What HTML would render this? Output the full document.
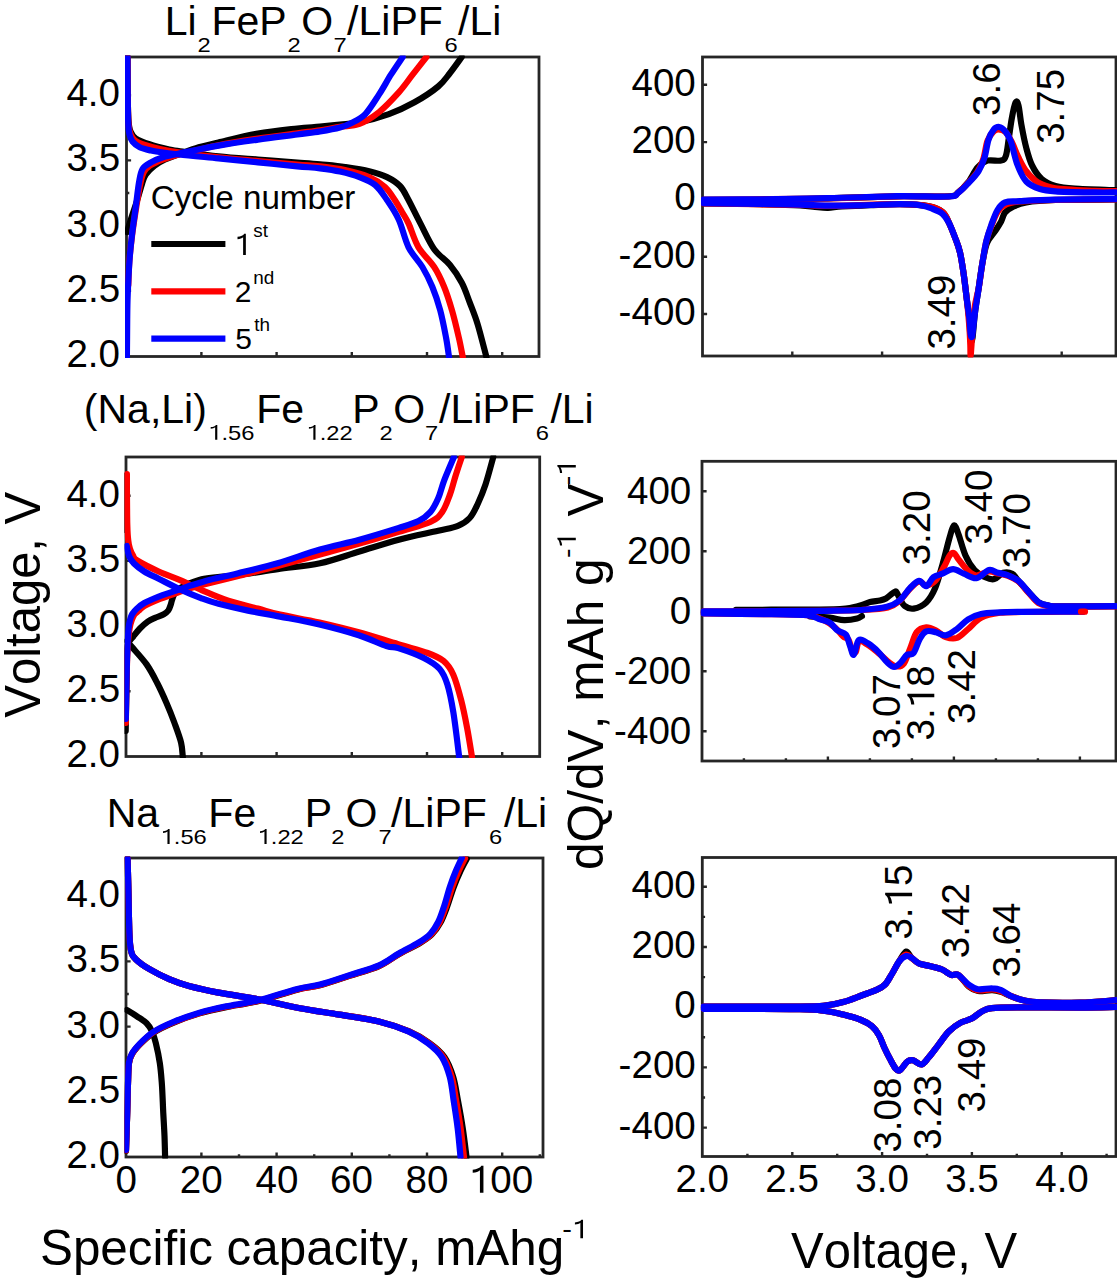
<!DOCTYPE html>
<html><head><meta charset="utf-8"><title>Figure</title>
<style>
html,body{margin:0;padding:0;background:#fff;}
body{width:1117px;height:1280px;overflow:hidden;}
svg{display:block;}
text{font-family:"Liberation Sans", sans-serif;fill:#000;font-kerning:none;}
</style></head><body>
<svg width="1117" height="1280" viewBox="0 0 1117 1280">
<rect width="1117" height="1280" fill="#fff"/>
<rect x="126.5" y="57.0" width="412.50" height="299.50" fill="none" stroke="#262626" stroke-width="2.8"/>
<path d="M201.4 356.5v-4.6 M276.6 356.5v-4.6 M351.8 356.5v-4.6 M427.0 356.5v-4.6 M502.2 356.5v-4.6 M126.5 323.4h2.8 M126.5 290.8h4.6 M126.5 258.2h2.8 M126.5 225.6h4.6 M126.5 193.0h2.8 M126.5 160.4h4.6 M126.5 127.8h2.8 M126.5 95.2h4.6 M126.5 62.6h2.8" stroke="#262626" stroke-width="2.4" fill="none"/>
<rect x="126.0" y="457.0" width="413.70" height="299.50" fill="none" stroke="#262626" stroke-width="2.8"/>
<path d="M201.4 756.5v-4.6 M276.6 756.5v-4.6 M351.8 756.5v-4.6 M427.0 756.5v-4.6 M502.2 756.5v-4.6 M126.0 691.3h4.6 M126.0 626.1h4.6 M126.0 560.9h4.6 M126.0 495.7h4.6" stroke="#262626" stroke-width="2.4" fill="none"/>
<rect x="126.0" y="858.0" width="417.00" height="299.00" fill="none" stroke="#262626" stroke-width="2.8"/>
<path d="M163.8 1157.0v-2.8 M201.4 1157.0v-4.6 M239.0 1157.0v-2.8 M276.6 1157.0v-4.6 M314.2 1157.0v-2.8 M351.8 1157.0v-4.6 M389.4 1157.0v-2.8 M427.0 1157.0v-4.6 M464.6 1157.0v-2.8 M502.2 1157.0v-4.6 M539.8 1157.0v-2.8 M126.0 1124.4h2.8 M126.0 1091.8h4.6 M126.0 1059.2h2.8 M126.0 1026.6h4.6 M126.0 994.0h2.8 M126.0 961.4h4.6 M126.0 928.8h2.8 M126.0 896.2h4.6 M126.0 863.6h2.8" stroke="#262626" stroke-width="2.4" fill="none"/>
<rect x="702.5" y="57.0" width="413.50" height="299.00" fill="none" stroke="#262626" stroke-width="2.8"/>
<path d="M792.3 356.0v-4.6 M882.1 356.0v-4.6 M971.9 356.0v-4.6 M1061.7 356.0v-4.6 M702.5 314.0h4.6 M702.5 256.7h4.6 M702.5 199.4h4.6 M702.5 142.1h4.6 M702.5 84.8h4.6" stroke="#262626" stroke-width="2.4" fill="none"/>
<rect x="702.0" y="461.3" width="414.00" height="299.70" fill="none" stroke="#262626" stroke-width="2.8"/>
<path d="M743.9 761.0v-2.8 M785.9 761.0v-2.8 M827.9 761.0v-4.6 M869.9 761.0v-2.8 M911.9 761.0v-2.8 M953.9 761.0v-4.6 M995.9 761.0v-2.8 M1037.9 761.0v-2.8 M1079.9 761.0v-4.6 M702.0 731.2h4.6 M702.0 671.2h4.6 M702.0 611.2h4.6 M702.0 551.2h4.6 M702.0 491.2h4.6" stroke="#262626" stroke-width="2.4" fill="none"/>
<rect x="702.3" y="857.5" width="413.70" height="299.00" fill="none" stroke="#262626" stroke-width="2.8"/>
<path d="M747.4 1156.5v-2.8 M792.3 1156.5v-4.6 M837.2 1156.5v-2.8 M882.1 1156.5v-4.6 M927.0 1156.5v-2.8 M971.9 1156.5v-4.6 M1016.8 1156.5v-2.8 M1061.7 1156.5v-4.6 M1106.6 1156.5v-2.8 M702.3 1127.6h4.6 M702.3 1097.5h2.8 M702.3 1067.4h4.6 M702.3 1037.3h2.8 M702.3 1007.2h4.6 M702.3 977.1h2.8 M702.3 947.0h4.6 M702.3 916.9h2.8 M702.3 886.8h4.6" stroke="#262626" stroke-width="2.4" fill="none"/>
<defs><clipPath id="cTL"><rect x="125.0" y="55.5" width="415.5" height="302.5"/></clipPath><clipPath id="cML"><rect x="124.5" y="455.5" width="416.70000000000005" height="302.5"/></clipPath><clipPath id="cBL"><rect x="124.5" y="856.5" width="420.0" height="302.0"/></clipPath><clipPath id="cTR"><rect x="701.0" y="55.5" width="416.5" height="302.0"/></clipPath><clipPath id="cMR"><rect x="700.5" y="459.8" width="417.0" height="302.7"/></clipPath><clipPath id="cBR"><rect x="700.8" y="856.0" width="416.70000000000005" height="302.0"/></clipPath></defs>
<g clip-path="url(#cTL)" fill="none" stroke-width="6.2" stroke-linejoin="round" stroke-linecap="round">
<path d="M127.5 57.0 C127.5 64.2 127.6 89.3 127.8 100.0 C128.0 110.7 128.1 115.8 128.5 121.0 C128.9 126.2 129.3 128.6 130.5 131.5 C131.7 134.4 132.6 136.4 135.8 138.5 C139.0 140.6 143.9 142.5 149.5 144.3 C155.1 146.2 164.1 148.4 169.2 149.6 C174.3 150.8 171.8 150.2 180.0 151.3 C188.2 152.4 205.5 154.9 218.5 156.3 C231.5 157.7 244.8 158.5 257.9 159.5 C271.0 160.5 286.9 161.7 297.3 162.5 C307.7 163.3 312.1 163.6 320.0 164.3 C327.9 165.1 336.8 165.8 345.0 167.0 C353.2 168.2 362.2 169.5 369.2 171.2 C376.2 172.9 381.9 174.6 387.0 177.1 C392.1 179.6 396.5 182.3 400.0 186.0 C403.5 189.7 404.6 192.7 408.0 199.0 C411.4 205.3 416.1 215.2 420.5 223.6 C424.9 232.0 429.3 242.3 434.2 249.2 C439.1 256.1 445.4 259.4 450.0 265.0 C454.6 270.6 458.5 276.5 461.8 282.7 C465.1 288.9 467.1 295.5 469.7 302.4 C472.3 309.3 474.8 315.0 477.6 324.1 C480.4 333.2 484.9 351.5 486.4 357.0" stroke="#000000"/>
<path d="M127.0 232.0 C127.7 229.8 129.3 224.3 131.0 219.0 C132.7 213.7 135.4 206.0 137.2 200.2 C139.0 194.4 140.6 188.3 142.0 184.0 C143.4 179.7 143.7 177.4 145.8 174.4 C147.9 171.4 151.2 168.3 154.4 165.8 C157.6 163.3 160.7 161.5 165.0 159.5 C169.3 157.5 174.4 155.8 180.0 153.8 C185.6 151.8 192.4 149.2 198.8 147.3 C205.2 145.4 208.7 144.8 218.5 142.5 C228.3 140.2 244.8 135.9 257.9 133.6 C271.0 131.3 286.9 129.7 297.3 128.5 C307.7 127.3 312.9 127.3 320.0 126.6 C327.1 125.9 333.4 125.2 340.0 124.5 C346.6 123.8 351.2 124.0 359.4 122.3 C367.5 120.6 379.7 117.4 388.9 114.1 C398.1 110.8 406.3 106.9 414.5 102.3 C422.7 97.7 432.3 91.4 438.2 86.5 C444.1 81.6 446.1 77.9 450.0 73.0 C453.9 68.1 459.8 59.7 461.8 57.0" stroke="#000000"/>
<path d="M127.5 57.0 C127.5 64.2 127.6 88.8 127.8 100.0 C128.0 111.2 128.1 118.3 128.5 124.0 C128.9 129.7 129.4 131.2 130.5 134.0 C131.6 136.8 132.6 138.7 135.0 140.5 C137.4 142.3 140.8 143.6 145.0 145.0 C149.2 146.4 154.2 147.8 160.0 149.0 C165.8 150.2 170.2 151.1 180.0 152.5 C189.8 153.9 205.5 155.9 218.5 157.3 C231.5 158.7 244.8 159.8 257.9 161.0 C271.0 162.2 286.9 163.6 297.3 164.5 C307.7 165.4 312.1 165.4 320.0 166.3 C327.9 167.2 336.8 168.2 345.0 170.0 C353.2 171.8 362.5 174.3 369.2 177.1 C375.9 179.9 380.7 183.2 385.0 187.0 C389.3 190.8 392.0 195.8 394.8 200.0 C397.6 204.2 399.7 208.1 402.0 212.0 C404.3 215.9 405.9 217.7 408.6 223.6 C411.4 229.5 414.2 240.1 418.5 247.3 C422.8 254.5 429.9 260.4 434.2 267.0 C438.5 273.6 441.1 279.5 444.1 286.7 C447.1 293.9 449.5 301.8 452.0 310.3 C454.5 318.8 457.1 330.1 458.9 337.9 C460.7 345.7 462.1 353.8 462.8 357.0" stroke="#ff0000"/>
<path d="M128.3 285.0 C128.5 281.2 128.7 270.2 129.3 262.0 C129.9 253.8 130.9 244.7 132.0 236.0 C133.1 227.3 134.5 218.3 135.8 210.0 C137.1 201.7 138.5 192.3 139.8 186.0 C141.1 179.7 142.1 175.4 143.8 172.0 C145.5 168.6 147.6 167.2 150.0 165.5 C152.4 163.8 155.0 162.8 158.0 161.5 C161.0 160.2 164.3 159.0 168.0 157.8 C171.7 156.6 171.6 156.4 180.0 154.3 C188.4 152.2 205.5 147.8 218.5 145.2 C231.5 142.6 244.8 140.6 257.9 138.6 C271.0 136.6 286.9 134.7 297.3 133.3 C307.7 131.9 312.9 131.4 320.0 130.3 C327.1 129.2 333.4 127.9 340.0 126.8 C346.6 125.7 352.9 126.4 359.4 123.9 C365.9 121.5 372.5 117.3 379.1 112.1 C385.7 106.8 393.2 98.6 398.8 92.4 C404.4 86.2 408.0 80.6 412.6 74.7 C417.2 68.8 424.1 60.0 426.4 57.0" stroke="#ff0000"/>
<path d="M127.5 57.0 C127.5 64.2 127.7 88.7 127.8 100.0 C127.9 111.3 128.0 119.2 128.3 125.0 C128.6 130.8 128.8 131.8 129.5 134.5 C130.2 137.2 130.8 139.4 132.5 141.5 C134.2 143.6 136.6 145.7 139.7 147.2 C142.8 148.7 147.7 149.8 151.0 150.6 C154.3 151.4 154.7 151.3 159.4 152.0 C164.1 152.7 169.2 153.4 179.1 154.5 C188.9 155.6 205.4 157.1 218.5 158.4 C231.6 159.7 244.8 161.0 257.9 162.3 C271.0 163.6 286.9 165.3 297.3 166.3 C307.7 167.3 312.9 167.4 320.0 168.3 C327.1 169.2 333.4 170.0 340.0 171.5 C346.6 173.0 353.5 174.8 359.4 177.1 C365.3 179.3 370.6 181.2 375.2 185.0 C379.8 188.8 383.1 194.2 387.0 200.0 C390.9 205.8 395.2 211.8 398.8 219.7 C402.4 227.6 404.7 239.4 408.6 247.3 C412.5 255.2 418.4 260.4 422.4 267.0 C426.3 273.6 429.3 279.5 432.3 286.7 C435.3 293.9 437.9 301.8 440.2 310.3 C442.5 318.8 444.6 330.1 446.1 337.9 C447.6 345.7 448.5 353.8 449.0 357.0" stroke="#0000ff"/>
<path d="M126.9 357.0 C127.0 350.8 127.1 330.4 127.2 320.0 C127.3 309.6 127.3 304.7 127.7 294.8 C128.1 284.9 128.8 270.4 129.5 260.4 C130.2 250.4 131.0 243.2 132.0 234.6 C133.0 226.0 134.3 217.4 135.5 208.8 C136.7 200.2 137.8 189.6 138.9 183.0 C140.1 176.4 140.4 172.6 142.4 169.2 C144.4 165.8 147.6 164.4 151.0 162.4 C154.4 160.4 158.3 158.7 163.0 157.2 C167.7 155.7 169.8 155.4 179.1 153.5 C188.3 151.6 205.4 147.9 218.5 145.6 C231.6 143.3 244.8 141.5 257.9 139.7 C271.0 137.8 286.9 135.9 297.3 134.5 C307.7 133.1 312.9 132.7 320.0 131.5 C327.1 130.3 334.8 128.9 340.0 127.5 C345.2 126.1 347.3 125.2 351.5 123.0 C355.7 120.8 360.7 118.9 365.3 114.1 C369.9 109.3 374.8 101.0 379.1 94.4 C383.4 87.8 387.0 80.9 390.9 74.7 C394.8 68.5 400.7 60.0 402.7 57.0" stroke="#0000ff"/>
</g>
<g clip-path="url(#cML)" fill="none" stroke-width="6.2" stroke-linejoin="round" stroke-linecap="round">
<path d="M125.4 476.0 C125.4 480.0 125.4 491.0 125.5 500.0 C125.6 509.0 125.8 525.0 125.8 530.0" stroke="#000000"/>
<path d="M127.0 641.0 C127.8 642.0 128.7 643.2 132.0 647.1 C135.3 651.0 142.4 658.4 146.6 664.4 C150.8 670.4 153.9 676.6 157.2 683.0 C160.5 689.4 163.6 696.3 166.5 702.9 C169.4 709.5 172.0 716.2 174.4 722.8 C176.8 729.4 179.7 737.0 181.1 742.7 C182.5 748.4 182.5 754.6 182.8 757.0" stroke="#000000"/>
<path d="M125.7 731.0 C125.8 725.8 126.0 711.0 126.2 700.0 C126.4 689.0 126.7 674.2 126.9 665.0 C127.1 655.8 126.5 649.8 127.6 645.0 C128.7 640.2 131.2 639.2 133.3 636.5 C135.4 633.8 137.5 631.0 139.9 628.5 C142.3 626.0 145.4 623.3 147.9 621.5 C150.4 619.7 152.3 619.0 155.0 617.8 C157.7 616.6 161.6 615.5 163.8 614.3 C166.0 613.1 167.1 612.1 168.3 610.5 C169.5 608.9 170.1 606.5 170.8 604.5 C171.5 602.5 171.6 600.7 172.5 598.5 C173.4 596.3 174.1 593.6 176.0 591.5 C177.9 589.4 179.4 588.0 183.7 586.0 C188.0 584.0 195.5 580.8 201.6 579.3 C207.7 577.8 213.9 577.5 220.0 576.8 C226.1 576.1 228.6 576.4 238.2 575.1 C247.8 573.8 264.0 571.2 277.6 569.2 C291.2 567.2 306.4 566.2 320.0 563.3 C333.6 560.3 346.3 555.4 359.4 551.5 C372.5 547.6 385.7 543.2 398.8 539.7 C411.9 536.2 428.4 533.1 438.2 530.8 C448.0 528.5 452.6 528.0 457.9 525.9 C463.1 523.8 466.4 521.6 469.7 518.0 C473.0 514.4 475.0 509.8 477.6 504.2 C480.2 498.6 482.9 492.4 485.5 484.5 C488.1 476.6 492.0 461.6 493.3 457.0" stroke="#000000"/>
<path d="M126.9 474.0 C126.9 478.3 126.9 491.5 127.0 500.0 C127.1 508.5 127.1 518.3 127.3 525.0 C127.5 531.7 127.7 536.0 128.2 540.0 C128.6 544.0 129.2 546.4 130.0 549.0 C130.8 551.6 131.8 553.6 133.0 555.5 C134.2 557.4 132.9 557.8 137.2 560.5 C141.5 563.2 151.5 568.2 158.7 571.5 C165.8 574.8 172.9 577.0 180.1 580.1 C187.2 583.2 193.6 586.7 201.6 590.1 C209.6 593.5 218.9 597.7 228.3 600.8 C237.7 603.9 249.3 606.3 257.9 608.6 C266.5 610.9 269.8 612.3 280.0 614.6 C290.2 616.9 306.3 619.5 319.4 622.5 C332.5 625.5 345.7 628.7 358.8 632.3 C371.9 635.9 386.7 640.8 398.2 644.2 C409.7 647.7 420.1 650.2 427.7 653.0 C435.2 655.8 439.2 657.3 443.5 660.9 C447.8 664.5 450.4 668.1 453.3 674.7 C456.2 681.3 458.9 691.4 461.2 700.3 C463.5 709.2 465.3 718.4 467.1 727.9 C468.9 737.4 471.2 752.1 472.0 757.0" stroke="#ff0000"/>
<path d="M125.8 723.0 C125.9 717.5 126.1 700.5 126.3 690.0 C126.5 679.5 126.8 668.3 127.1 660.0 C127.4 651.7 127.8 645.3 128.2 640.0 C128.6 634.7 129.1 631.3 129.7 628.0 C130.3 624.7 131.0 622.2 131.8 620.0 C132.6 617.8 133.3 616.1 134.5 614.5 C135.7 612.9 137.4 611.9 139.0 610.5 C140.6 609.1 141.0 607.8 144.3 606.0 C147.6 604.2 153.9 601.5 158.7 599.5 C163.5 597.5 168.2 596.0 173.0 594.3 C177.8 592.6 182.5 590.8 187.3 589.3 C192.1 587.8 193.1 587.2 201.6 585.0 C210.1 582.8 225.5 579.2 238.2 576.0 C250.9 572.8 264.0 569.6 277.6 566.0 C291.2 562.4 306.4 558.2 320.0 554.5 C333.6 550.8 346.3 547.4 359.4 543.6 C372.5 539.8 387.0 535.4 398.8 531.8 C410.6 528.2 423.1 525.3 430.3 522.0 C437.5 518.7 438.8 516.7 442.1 512.1 C445.4 507.5 447.7 500.6 450.0 494.4 C452.3 488.2 453.9 480.9 455.9 474.7 C457.9 468.5 460.8 459.9 461.8 457.0" stroke="#ff0000"/>
<path d="M126.7 546.0 C127.1 547.8 128.1 553.6 129.3 556.5 C130.5 559.4 131.5 561.0 134.0 563.5 C136.5 566.0 140.2 569.0 144.3 571.5 C148.4 574.0 152.7 575.7 158.7 578.7 C164.7 581.7 172.9 586.1 180.1 589.4 C187.2 592.7 195.2 595.9 201.6 598.3 C208.0 600.7 210.8 601.8 218.5 603.8 C226.2 605.8 237.8 608.5 248.0 610.6 C258.2 612.7 268.1 614.3 280.0 616.6 C291.9 618.9 306.3 621.4 319.4 624.5 C332.5 627.6 347.6 631.7 358.8 635.3 C370.0 638.9 379.8 644.0 386.4 646.1 C393.0 648.2 392.0 646.1 398.2 648.1 C404.4 650.1 416.9 654.5 423.8 658.0 C430.7 661.5 435.6 664.4 439.5 668.8 C443.4 673.2 445.1 677.3 447.4 684.5 C449.7 691.7 451.3 700.0 453.3 712.1 C455.3 724.2 458.2 749.5 459.2 757.0" stroke="#0000ff"/>
<path d="M125.8 719.0 C125.9 714.2 126.1 699.8 126.3 690.0 C126.5 680.2 126.8 668.3 127.0 660.0 C127.2 651.7 127.5 645.3 127.8 640.0 C128.1 634.7 128.2 631.3 128.6 628.0 C129.0 624.7 129.4 622.3 130.0 620.0 C130.6 617.7 131.1 615.9 132.3 614.0 C133.5 612.1 135.0 610.3 137.0 608.5 C139.0 606.7 140.7 605.0 144.3 603.0 C147.9 601.0 153.9 598.5 158.7 596.6 C163.5 594.7 168.2 593.3 173.0 591.6 C177.8 589.9 182.5 588.2 187.3 586.6 C192.1 585.0 197.8 583.4 201.6 582.3 C205.4 581.2 203.9 581.3 210.0 579.8 C216.1 578.3 226.9 576.0 238.2 573.2 C249.5 570.5 264.0 567.2 277.6 563.3 C291.2 559.3 306.4 553.4 320.0 549.5 C333.6 545.6 346.3 543.3 359.4 539.7 C372.5 536.1 388.9 531.0 398.8 527.9 C408.7 524.8 413.2 523.6 418.5 521.0 C423.8 518.4 427.0 515.9 430.3 512.1 C433.6 508.3 435.9 503.6 438.2 498.3 C440.5 493.1 441.5 487.5 444.1 480.6 C446.7 473.7 452.3 460.9 453.9 457.0" stroke="#0000ff"/>
</g>
<g clip-path="url(#cBL)" fill="none" stroke-width="6.2" stroke-linejoin="round" stroke-linecap="round">
<path d="M126.6 1009.9 C128.4 1011.0 134.0 1014.4 137.3 1016.6 C140.6 1018.8 144.2 1020.8 146.6 1023.2 C149.0 1025.6 150.4 1027.9 151.9 1031.2 C153.4 1034.5 154.5 1037.8 155.8 1043.1 C157.1 1048.4 158.8 1056.4 159.8 1063.0 C160.8 1069.6 161.2 1075.2 161.8 1082.9 C162.4 1090.7 162.7 1100.7 163.1 1109.5 C163.5 1118.3 164.2 1128.1 164.5 1136.0 C164.8 1143.9 165.0 1153.5 165.1 1157.0" stroke="#000000"/>
<path d="M127.6 858.5 C127.8 864.5 128.2 881.9 128.5 894.4 C128.8 906.9 129.0 924.3 129.4 933.8 C129.8 943.3 130.1 947.2 131.2 951.5 C132.3 955.8 132.9 956.4 136.0 959.4 C139.1 962.4 144.0 965.9 149.5 969.2 C155.0 972.5 162.6 976.3 169.2 979.1 C175.8 981.9 180.7 983.8 188.9 986.0 C197.1 988.2 207.0 990.4 218.5 992.6 C230.0 994.8 244.3 996.6 257.9 999.2 C271.5 1001.8 286.4 1005.6 300.0 1008.2 C313.6 1010.8 326.3 1012.4 339.4 1014.6 C352.5 1016.8 367.2 1018.7 378.8 1021.5 C390.4 1024.3 400.7 1027.8 409.2 1031.4 C417.6 1035.0 423.8 1038.9 429.7 1043.2 C435.6 1047.5 440.5 1051.4 444.4 1057.0 C448.3 1062.6 450.9 1069.5 453.1 1076.7 C455.4 1083.9 456.3 1091.8 457.9 1100.3 C459.5 1108.8 461.3 1118.5 462.7 1127.9 C464.2 1137.4 465.9 1152.2 466.5 1157.0" stroke="#000000"/>
<path d="M126.0 1150.8 C126.2 1144.0 127.0 1121.5 127.3 1110.3 C127.6 1099.1 127.7 1091.5 128.0 1083.7 C128.3 1075.9 128.3 1068.2 129.0 1063.3 C129.7 1058.4 130.2 1057.5 132.0 1054.3 C133.8 1051.1 136.4 1048.0 139.9 1044.4 C143.4 1040.8 147.7 1036.4 153.2 1032.8 C158.7 1029.2 165.4 1026.0 173.1 1022.8 C180.8 1019.6 190.8 1016.0 199.6 1013.4 C208.4 1010.8 216.5 1009.1 226.2 1007.1 C235.9 1005.1 246.0 1004.1 257.9 1001.2 C269.8 998.3 286.9 992.3 297.3 989.7 C307.7 987.0 311.3 987.6 320.0 985.3 C328.7 983.0 339.6 979.1 349.5 975.9 C359.4 972.7 370.9 969.7 379.1 966.1 C387.3 962.5 392.1 958.1 398.8 954.3 C405.5 950.5 413.7 946.8 419.2 943.5 C424.7 940.2 428.2 938.0 431.7 934.6 C435.2 931.1 437.8 927.4 440.3 922.8 C442.9 918.2 444.8 912.9 447.0 907.0 C449.2 901.1 451.4 893.2 453.6 887.3 C455.8 881.4 458.0 876.3 460.2 871.6 C462.4 866.8 465.7 860.9 466.8 858.8" stroke="#000000"/>
<path d="M127.6 858.5 C127.8 864.5 128.2 881.9 128.5 894.4 C128.8 906.9 129.0 924.3 129.4 933.8 C129.8 943.3 130.1 947.2 131.2 951.5 C132.3 955.8 132.9 956.4 136.0 959.4 C139.1 962.4 144.0 965.9 149.5 969.2 C155.0 972.5 162.6 976.3 169.2 979.1 C175.8 981.9 180.7 983.8 188.9 986.0 C197.1 988.2 207.0 990.4 218.5 992.6 C230.0 994.8 244.3 996.6 257.9 999.2 C271.5 1001.8 286.4 1005.6 300.0 1008.2 C313.6 1010.8 326.3 1012.4 339.4 1014.6 C352.5 1016.8 367.2 1018.7 378.8 1021.5 C390.4 1024.3 400.4 1027.8 408.8 1031.4 C417.2 1035.0 423.2 1038.9 429.0 1043.2 C434.8 1047.5 439.5 1051.4 443.3 1057.0 C447.1 1062.6 449.6 1069.5 451.7 1076.7 C453.8 1083.9 454.6 1091.8 456.1 1100.3 C457.6 1108.8 459.3 1118.5 460.6 1127.9 C461.9 1137.4 463.4 1152.2 464.0 1157.0" stroke="#ff0000"/>
<path d="M126.0 1150.5 C126.2 1143.8 127.0 1121.2 127.3 1110.0 C127.6 1098.8 127.7 1091.2 128.0 1083.4 C128.3 1075.6 128.3 1067.9 129.0 1063.0 C129.7 1058.1 130.2 1057.2 132.0 1054.0 C133.8 1050.8 136.4 1047.7 139.9 1044.1 C143.4 1040.5 147.7 1036.1 153.2 1032.5 C158.7 1028.9 165.4 1025.7 173.1 1022.5 C180.8 1019.3 190.8 1015.7 199.6 1013.1 C208.4 1010.5 216.5 1008.8 226.2 1006.8 C235.9 1004.8 246.0 1003.8 257.9 1000.9 C269.8 998.0 286.9 992.0 297.3 989.4 C307.7 986.8 311.3 987.3 320.0 985.0 C328.7 982.7 339.6 978.8 349.5 975.6 C359.4 972.4 370.9 969.4 379.1 965.8 C387.3 962.2 392.2 957.8 398.8 954.0 C405.4 950.2 413.6 946.5 419.0 943.2 C424.4 939.9 427.8 937.8 431.2 934.3 C434.6 930.8 437.1 927.1 439.6 922.5 C442.0 917.9 443.8 912.6 445.9 906.7 C448.0 900.8 450.2 892.9 452.3 887.0 C454.4 881.1 456.5 876.0 458.6 871.3 C460.8 866.5 463.9 860.6 465.0 858.5" stroke="#ff0000"/>
<path d="M127.6 858.5 C127.8 864.5 128.2 881.9 128.5 894.4 C128.8 906.9 129.0 924.3 129.4 933.8 C129.8 943.3 130.1 947.2 131.2 951.5 C132.3 955.8 132.9 956.4 136.0 959.4 C139.1 962.4 144.0 965.9 149.5 969.2 C155.0 972.5 162.6 976.3 169.2 979.1 C175.8 981.9 180.7 983.8 188.9 986.0 C197.1 988.2 207.0 990.4 218.5 992.6 C230.0 994.8 244.3 996.6 257.9 999.2 C271.5 1001.8 286.4 1005.6 300.0 1008.2 C313.6 1010.8 326.3 1012.4 339.4 1014.6 C352.5 1016.8 367.3 1018.7 378.8 1021.5 C390.3 1024.3 400.1 1027.8 408.3 1031.4 C416.5 1035.0 422.4 1038.9 428.0 1043.2 C433.6 1047.5 438.2 1051.4 441.8 1057.0 C445.4 1062.6 447.7 1069.5 449.7 1076.7 C451.7 1083.9 452.3 1091.8 453.6 1100.3 C454.9 1108.8 456.5 1118.5 457.6 1127.9 C458.8 1137.4 460.0 1152.2 460.5 1157.0" stroke="#0000ff"/>
<path d="M126.0 1150.0 C126.2 1143.2 127.0 1120.7 127.3 1109.5 C127.6 1098.3 127.7 1090.7 128.0 1082.9 C128.3 1075.1 128.3 1067.4 129.0 1062.5 C129.7 1057.6 130.2 1056.7 132.0 1053.5 C133.8 1050.3 136.4 1047.2 139.9 1043.6 C143.4 1040.0 147.7 1035.6 153.2 1032.0 C158.7 1028.4 165.4 1025.2 173.1 1022.0 C180.8 1018.8 190.8 1015.2 199.6 1012.6 C208.4 1010.0 216.5 1008.3 226.2 1006.3 C235.9 1004.3 246.0 1003.3 257.9 1000.4 C269.8 997.5 286.9 991.5 297.3 988.9 C307.7 986.2 311.3 986.8 320.0 984.5 C328.7 982.2 339.6 978.3 349.5 975.1 C359.4 971.9 370.9 968.9 379.1 965.3 C387.3 961.7 392.2 957.3 398.8 953.5 C405.4 949.7 413.2 946.0 418.5 942.7 C423.8 939.4 427.0 937.2 430.3 933.8 C433.6 930.3 435.9 926.6 438.2 922.0 C440.5 917.4 442.1 912.1 444.1 906.2 C446.1 900.3 448.0 892.4 450.0 886.5 C452.0 880.6 453.9 875.5 455.9 870.8 C457.9 866.0 460.8 860.1 461.8 858.0" stroke="#0000ff"/>
</g>
<g clip-path="url(#cTR)" fill="none" stroke-width="6.2" stroke-linejoin="round" stroke-linecap="round">
<path d="M703.5 199.8 C712.9 199.8 739.2 199.8 760.0 199.5 C780.8 199.2 805.2 198.8 828.0 198.3 C850.8 197.8 876.9 196.6 897.0 196.3 C917.1 196.0 938.4 197.0 948.6 196.3 C958.8 195.6 955.1 194.6 958.3 192.3 C961.5 190.0 964.8 186.7 968.0 182.5 C971.2 178.3 974.5 171.1 977.7 167.4 C980.9 163.8 983.5 161.7 987.4 160.6 C991.3 159.5 997.9 161.4 1001.0 160.6 C1004.1 159.8 1004.6 159.5 1005.9 155.8 C1007.2 152.1 1007.8 144.5 1008.8 138.3 C1009.8 132.2 1010.6 124.9 1011.7 118.9 C1012.8 112.9 1014.5 104.7 1015.6 102.5 C1016.7 100.3 1017.5 101.8 1018.5 105.5 C1019.5 109.2 1020.1 117.6 1021.4 124.7 C1022.7 131.8 1024.5 141.2 1026.3 148.0 C1028.1 154.8 1029.5 160.3 1032.1 165.5 C1034.7 170.7 1037.9 175.7 1041.8 179.1 C1045.7 182.5 1049.9 184.3 1055.4 185.9 C1060.9 187.5 1064.8 187.9 1074.9 188.6 C1085.0 189.3 1109.2 189.9 1116.0 190.2" stroke="#000000"/>
<path d="M703.5 203.3 C712.9 203.5 743.9 203.8 760.0 204.2 C776.1 204.6 790.8 205.0 800.0 205.5 C809.2 206.0 810.3 206.6 815.0 207.0 C819.7 207.4 823.5 207.9 828.0 207.8 C832.5 207.7 835.0 206.9 842.0 206.5 C849.0 206.1 860.3 205.6 870.0 205.2 C879.7 204.8 890.1 204.0 900.0 204.2 C909.9 204.4 922.0 205.0 929.1 206.3 C936.2 207.6 939.4 209.4 942.7 212.1 C946.0 214.8 946.8 218.3 948.8 222.5 C950.8 226.7 953.1 232.5 955.0 237.5 C956.9 242.5 958.5 246.2 960.0 252.5 C961.5 258.8 962.6 267.1 963.8 275.0 C964.9 282.9 966.0 292.5 966.9 300.0 C967.8 307.5 968.8 313.3 969.4 320.0 C970.0 326.7 970.1 337.0 970.6 340.0 C971.1 343.0 971.8 342.6 972.5 338.0 C973.2 333.4 974.0 320.9 975.0 312.5 C976.0 304.1 977.5 295.8 978.8 287.5 C980.0 279.2 981.1 269.9 982.5 262.5 C983.9 255.1 984.9 248.2 987.0 243.0 C989.1 237.8 992.7 234.8 995.0 231.3 C997.3 227.8 999.3 224.9 1001.0 221.8 C1002.7 218.7 1003.0 215.0 1005.0 212.5 C1007.0 210.0 1009.2 208.7 1012.7 207.0 C1016.2 205.3 1019.2 203.6 1026.3 202.4 C1033.4 201.2 1040.5 200.5 1055.4 200.0 C1070.4 199.5 1105.9 199.6 1116.0 199.5" stroke="#000000"/>
<path d="M703.5 199.8 C724.2 199.6 795.8 199.1 828.0 198.5 C860.2 197.9 876.9 196.6 897.0 196.3 C917.1 196.0 938.4 197.1 948.6 196.5 C958.8 195.9 955.1 194.8 958.3 192.5 C961.5 190.2 964.8 186.5 968.0 183.0 C971.2 179.5 975.1 175.4 977.7 171.3 C980.3 167.2 981.9 163.6 983.5 158.5 C985.1 153.4 985.8 145.4 987.4 141.0 C989.0 136.6 991.2 133.9 993.0 132.0 C994.8 130.1 996.0 129.5 998.1 129.5 C1000.2 129.5 1003.2 129.8 1005.5 132.0 C1007.8 134.2 1009.8 138.2 1012.0 142.5 C1014.2 146.8 1016.1 152.7 1018.5 157.5 C1020.9 162.3 1023.2 167.3 1026.5 171.5 C1029.8 175.7 1033.2 179.7 1038.0 182.5 C1042.8 185.3 1046.0 186.9 1055.4 188.3 C1064.8 189.7 1084.2 190.3 1094.3 190.8 C1104.4 191.3 1112.4 191.1 1116.0 191.2" stroke="#ff0000"/>
<path d="M703.5 203.4 C719.6 203.7 779.2 204.6 800.0 205.0 C820.8 205.4 811.3 205.9 828.0 205.8 C844.7 205.7 883.1 204.1 900.0 204.2 C916.9 204.3 922.0 205.0 929.1 206.3 C936.2 207.6 939.4 209.4 942.7 212.1 C946.0 214.8 946.8 218.3 948.8 222.5 C950.8 226.7 953.1 232.5 955.0 237.5 C956.9 242.5 958.5 246.2 960.0 252.5 C961.5 258.8 962.6 267.1 963.8 275.0 C964.9 282.9 966.0 291.7 966.9 300.0 C967.8 308.3 968.6 317.5 969.2 325.0 C969.8 332.5 970.1 339.8 970.3 345.0 C970.5 350.2 970.4 356.0 970.6 356.0 C970.8 356.0 971.1 350.2 971.5 345.0 C971.9 339.8 972.1 331.7 972.7 325.0 C973.3 318.3 974.0 311.2 975.0 305.0 C976.0 298.8 977.5 294.6 978.8 287.5 C980.0 280.4 981.2 270.2 982.5 262.5 C983.8 254.8 984.8 247.4 986.3 241.3 C987.8 235.2 989.4 230.9 991.3 226.0 C993.2 221.1 995.2 215.5 997.5 212.0 C999.8 208.5 1001.2 206.8 1005.0 205.0 C1008.8 203.2 1011.6 202.4 1020.0 201.5 C1028.4 200.6 1039.4 200.2 1055.4 199.8 C1071.4 199.4 1105.9 199.4 1116.0 199.3" stroke="#ff0000"/>
<path d="M703.5 199.6 C712.9 199.6 739.2 199.5 760.0 199.3 C780.8 199.1 805.2 198.7 828.0 198.2 C850.8 197.7 876.9 196.5 897.0 196.2 C917.1 195.9 938.4 197.1 948.6 196.5 C958.8 195.9 955.0 194.9 958.3 192.7 C961.6 190.4 965.1 186.6 968.5 183.0 C971.9 179.4 975.8 175.5 978.5 171.3 C981.2 167.1 982.9 162.9 984.5 157.7 C986.1 152.5 986.9 144.7 988.4 140.0 C989.9 135.3 992.0 131.7 993.8 129.5 C995.6 127.3 997.4 126.8 999.3 127.0 C1001.1 127.2 1003.0 128.7 1004.9 131.0 C1006.8 133.3 1008.6 135.3 1010.7 141.0 C1012.8 146.7 1014.9 158.2 1017.5 165.0 C1020.1 171.8 1022.5 177.5 1026.3 181.5 C1030.0 185.5 1035.2 187.4 1040.0 189.0 C1044.8 190.6 1046.4 190.7 1055.4 191.3 C1064.5 191.9 1084.2 192.2 1094.3 192.4 C1104.4 192.6 1112.4 192.4 1116.0 192.4" stroke="#0000ff"/>
<path d="M703.5 203.2 C712.9 203.3 743.9 203.6 760.0 203.8 C776.1 204.0 788.7 204.3 800.0 204.6 C811.3 204.9 818.0 205.5 828.0 205.6 C838.0 205.7 848.0 205.5 860.0 205.3 C872.0 205.1 890.0 204.2 900.0 204.2 C910.0 204.2 914.6 204.4 920.0 205.2 C925.4 206.0 928.8 207.4 932.5 208.8 C936.2 210.2 939.8 211.5 942.5 213.8 C945.2 216.1 946.7 218.6 948.8 222.5 C950.9 226.4 953.1 232.5 955.0 237.5 C956.9 242.5 958.5 246.2 960.0 252.5 C961.5 258.8 962.6 267.1 963.8 275.0 C964.9 282.9 966.0 292.7 966.9 300.0 C967.8 307.3 968.8 313.1 969.4 318.8 C970.0 324.5 970.2 331.0 970.6 334.0 C971.0 337.0 971.3 337.0 971.6 337.0 C971.9 337.0 971.9 338.1 972.5 334.0 C973.1 329.9 974.0 320.2 975.0 312.5 C976.0 304.8 977.5 295.8 978.8 287.5 C980.0 279.2 981.2 270.2 982.5 262.5 C983.8 254.8 984.8 247.6 986.3 241.3 C987.8 235.1 989.4 230.2 991.3 225.0 C993.2 219.8 995.2 213.8 997.5 210.0 C999.8 206.2 1001.2 204.0 1005.0 202.5 C1008.8 201.0 1011.6 201.7 1020.0 201.2 C1028.4 200.7 1039.4 199.9 1055.4 199.6 C1071.4 199.2 1105.9 199.2 1116.0 199.1" stroke="#0000ff"/>
</g>
<g clip-path="url(#cMR)" fill="none" stroke-width="6.2" stroke-linejoin="round" stroke-linecap="round">
<path d="M736.0 609.8 C746.7 609.8 782.7 609.7 800.0 609.6 C817.3 609.5 831.3 609.4 840.0 609.0 C848.7 608.6 848.3 608.2 852.0 607.5 C855.7 606.8 859.0 605.9 862.0 605.0 C865.0 604.1 867.0 602.8 870.0 602.0 C873.0 601.2 877.3 601.1 880.0 600.5 C882.7 599.9 884.2 599.5 886.0 598.5 C887.8 597.5 889.4 595.7 891.0 594.5 C892.6 593.3 894.5 591.8 895.5 591.5 C896.5 591.2 896.4 592.1 897.0 593.0 C897.6 593.9 897.7 594.8 899.0 597.0 C900.3 599.2 902.3 604.1 904.8 606.0 C907.2 607.9 910.1 609.2 913.7 608.6 C917.3 608.0 922.6 605.8 926.2 602.4 C929.8 599.0 932.5 594.3 935.2 588.0 C937.9 581.7 940.0 573.1 942.4 564.8 C944.8 556.4 947.6 544.5 949.5 537.9 C951.4 531.3 952.5 526.0 954.0 525.4 C955.5 524.8 956.6 529.2 958.5 534.3 C960.4 539.4 962.9 549.8 965.6 555.8 C968.3 561.8 971.3 566.5 974.6 570.1 C977.9 573.7 982.0 575.8 985.3 577.3 C988.6 578.8 991.3 579.9 994.3 579.1 C997.3 578.4 1000.2 573.7 1003.2 572.8 C1006.2 571.9 1009.7 572.4 1012.2 573.7 C1014.8 575.1 1015.8 577.9 1018.5 580.9 C1021.2 583.9 1025.2 588.2 1028.5 591.8 C1031.8 595.3 1035.2 599.9 1038.5 602.2 C1041.8 604.5 1044.9 604.9 1048.5 605.6 C1052.1 606.3 1048.8 606.3 1060.0 606.4 C1071.2 606.5 1106.7 606.2 1116.0 606.2" stroke="#000000"/>
<path d="M810.0 616.5 C813.3 616.7 824.0 617.1 829.7 617.7 C835.4 618.3 839.6 620.0 844.2 620.1 C848.8 620.2 854.2 619.2 857.1 618.5 C860.0 617.8 861.1 616.5 861.9 616.1" stroke="#000000"/>
<path d="M703.6 611.4 C714.8 611.4 750.8 611.3 771.0 611.2 C791.2 611.1 810.0 611.0 825.0 610.8 C840.0 610.6 850.6 610.6 861.1 610.0 C871.6 609.4 881.6 608.9 888.0 607.4 C894.4 605.9 895.7 604.1 899.4 601.0 C903.1 597.9 906.8 591.8 910.1 588.5 C913.4 585.2 916.4 582.0 919.1 581.5 C921.8 581.0 923.5 585.6 926.2 585.5 C928.9 585.4 932.2 584.0 935.2 580.9 C938.2 577.8 941.8 570.8 944.2 566.6 C946.6 562.4 947.9 558.0 949.5 555.8 C951.1 553.5 952.5 552.5 954.0 553.1 C955.5 553.7 956.3 556.6 958.5 559.4 C960.7 562.2 964.4 567.4 967.4 570.1 C970.4 572.8 972.8 575.3 976.4 575.5 C980.0 575.7 985.3 571.8 988.9 571.5 C992.5 571.2 994.6 572.8 997.9 573.5 C1001.2 574.2 1005.2 574.7 1008.6 576.0 C1012.0 577.3 1015.2 578.7 1018.5 581.5 C1021.8 584.3 1025.2 589.1 1028.5 592.7 C1031.8 596.3 1035.2 601.0 1038.5 603.2 C1041.8 605.4 1044.9 605.4 1048.5 606.0 C1052.1 606.6 1048.8 606.5 1060.0 606.6 C1071.2 606.7 1106.7 606.4 1116.0 606.4" stroke="#ff0000"/>
<path d="M703.6 613.4 C714.9 613.5 754.3 613.9 771.6 614.2 C788.9 614.5 798.5 614.1 807.4 615.2 C816.3 616.3 820.5 618.7 825.3 620.9 C830.1 623.1 833.1 625.9 836.1 628.5 C839.1 631.1 841.1 634.6 843.2 636.5 C845.3 638.4 847.1 637.6 848.6 640.0 C850.1 642.4 851.0 649.0 852.2 651.0 C853.4 653.0 854.6 653.7 855.8 652.0 C857.0 650.3 857.0 641.9 859.4 641.0 C861.8 640.1 866.8 644.4 870.1 646.5 C873.4 648.6 875.7 650.8 879.0 653.5 C882.3 656.2 886.8 660.8 889.8 663.0 C892.8 665.2 894.7 666.4 897.0 666.5 C899.3 666.6 901.6 666.6 903.8 663.6 C906.0 660.6 908.1 653.5 910.2 648.3 C912.4 643.1 914.0 635.7 916.7 632.2 C919.4 628.7 923.1 627.7 926.3 627.4 C929.5 627.1 932.8 629.0 936.0 630.6 C939.2 632.2 942.2 635.9 945.7 637.1 C949.2 638.3 953.2 639.2 957.0 637.9 C960.8 636.5 964.2 632.4 968.2 629.0 C972.2 625.6 975.8 620.4 981.1 617.7 C986.4 615.0 993.4 613.8 1000.0 612.8 C1006.6 611.8 1012.7 612.2 1021.0 612.0 C1029.3 611.8 1039.7 611.8 1050.0 611.8 C1060.3 611.8 1077.5 611.7 1083.0 611.7" stroke="#ff0000"/>
<path d="M703.6 611.4 C714.8 611.4 750.7 611.3 771.0 611.2 C791.3 611.1 810.3 611.0 825.3 610.8 C840.3 610.6 850.8 610.7 861.1 610.0 C871.4 609.3 880.5 608.4 886.9 606.8 C893.3 605.2 895.5 603.7 899.4 600.6 C903.3 597.5 906.8 591.3 910.1 588.0 C913.4 584.7 916.4 581.2 919.1 580.9 C921.8 580.6 923.8 586.8 926.2 586.2 C928.6 585.6 930.7 579.4 933.4 577.3 C936.1 575.2 939.1 575.1 942.4 573.7 C945.7 572.4 949.5 569.2 953.1 569.2 C956.7 569.2 959.9 572.2 963.8 573.7 C967.7 575.2 972.2 578.8 976.4 578.2 C980.6 577.6 985.3 571.0 988.9 570.1 C992.5 569.2 994.6 571.9 997.9 572.8 C1001.2 573.7 1005.2 574.1 1008.6 575.5 C1012.0 576.9 1015.2 578.2 1018.5 580.9 C1021.8 583.6 1025.2 588.2 1028.5 591.8 C1031.8 595.3 1035.2 599.9 1038.5 602.2 C1041.8 604.5 1044.9 604.9 1048.5 605.6 C1052.1 606.3 1048.8 606.3 1060.0 606.4 C1071.2 606.5 1106.7 606.2 1116.0 606.2" stroke="#0000ff"/>
<path d="M703.6 613.4 C714.9 613.5 754.3 613.9 771.6 614.2 C788.9 614.5 799.3 614.4 807.4 615.2 C815.5 616.1 816.3 618.1 820.0 619.3 C823.7 620.5 826.8 620.7 829.7 622.6 C832.7 624.5 835.0 628.6 837.7 630.6 C840.4 632.6 843.8 632.2 845.8 634.6 C847.8 637.0 848.5 641.7 849.8 645.1 C851.1 648.5 852.3 655.6 853.8 654.8 C855.3 654.0 856.3 642.2 858.7 640.3 C861.1 638.4 865.1 641.6 868.3 643.5 C871.5 645.4 874.8 648.4 878.0 651.6 C881.2 654.8 885.0 660.2 887.7 662.8 C890.4 665.3 892.0 666.9 894.1 666.9 C896.2 666.9 898.5 664.8 900.6 662.8 C902.8 660.8 904.9 656.4 907.0 654.8 C909.1 653.2 911.4 655.9 913.5 653.2 C915.6 650.5 917.8 642.3 919.9 638.7 C922.0 635.1 923.6 632.5 926.3 631.4 C929.0 630.3 932.8 631.5 936.0 632.2 C939.2 632.9 942.2 635.9 945.7 635.4 C949.2 634.9 953.2 631.7 957.0 629.0 C960.8 626.3 964.2 621.8 968.2 619.3 C972.2 616.8 975.8 615.1 981.1 614.0 C986.4 612.9 993.3 612.8 1000.0 612.4 C1006.7 612.0 1012.8 612.0 1021.1 611.9 C1029.4 611.8 1039.7 611.8 1050.0 611.7 C1060.3 611.7 1077.5 611.6 1083.0 611.6" stroke="#0000ff"/>
<path d="M1081.0 611.7 L1085.0 611.7" stroke="#ff0000"/>
</g>
<g clip-path="url(#cBR)" fill="none" stroke-width="6.2" stroke-linejoin="round" stroke-linecap="round">
<path d="M703.6 1006.5 C719.7 1006.5 779.7 1006.7 800.0 1006.6 C820.3 1006.5 818.1 1006.5 825.3 1005.7 C832.5 1005.0 837.2 1003.8 843.2 1002.1 C849.2 1000.4 856.1 997.5 861.5 995.5 C866.9 993.5 871.9 991.9 875.8 990.1 C879.7 988.3 882.1 987.5 884.8 984.8 C887.5 982.1 889.5 977.9 891.9 974.0 C894.3 970.1 896.7 965.2 899.1 961.5 C901.5 957.8 904.1 952.2 906.2 951.6 C908.3 951.0 909.5 956.0 911.6 957.9 C913.7 959.8 915.8 961.9 918.8 963.3 C921.8 964.6 925.6 965.0 929.5 966.0 C933.4 967.0 938.5 968.0 942.1 969.5 C945.7 971.0 948.3 974.0 951.0 974.9 C953.7 975.8 955.2 973.0 958.2 974.9 C961.2 976.8 965.6 983.9 968.9 986.6 C972.2 989.3 974.0 990.4 977.9 991.0 C981.8 991.6 988.3 989.9 992.2 990.1 C996.1 990.2 997.8 990.8 1001.1 991.9 C1004.4 993.0 1008.0 995.1 1011.9 996.5 C1015.8 997.9 1019.7 999.5 1024.4 1000.5 C1029.1 1001.5 1030.7 1002.0 1040.0 1002.4 C1049.3 1002.8 1067.3 1003.0 1080.0 1002.6 C1092.7 1002.2 1110.0 1000.6 1116.0 1000.2" stroke="#000000"/>
<path d="M703.6 1008.8 C719.7 1008.9 779.7 1008.8 800.0 1009.2 C820.3 1009.6 818.1 1010.1 825.3 1011.0 C832.5 1011.9 837.2 1013.1 843.2 1014.6 C849.2 1016.1 856.3 1018.1 861.1 1020.0 C865.9 1021.9 868.9 1023.7 871.9 1026.2 C874.9 1028.7 876.9 1031.6 879.0 1035.2 C881.1 1038.8 882.6 1043.8 884.4 1047.7 C886.2 1051.6 887.9 1055.0 889.8 1058.5 C891.7 1062.0 894.1 1066.8 895.8 1068.8 C897.5 1070.8 898.2 1071.4 900.1 1070.2 C902.0 1069.0 905.1 1063.3 907.3 1061.6 C909.4 1059.9 910.6 1059.7 913.0 1060.2 C915.4 1060.7 919.0 1065.0 921.6 1064.5 C924.2 1064.0 925.9 1060.6 928.8 1057.3 C931.7 1054.0 935.5 1048.7 938.8 1044.4 C942.1 1040.1 945.2 1035.1 948.8 1031.5 C952.4 1027.9 956.5 1025.0 960.3 1022.9 C964.1 1020.8 968.1 1020.5 971.7 1018.6 C975.3 1016.7 978.4 1013.2 981.8 1011.5 C985.1 1009.8 985.4 1008.9 991.8 1008.2 C998.2 1007.5 1005.3 1007.5 1020.0 1007.4 C1034.7 1007.3 1064.0 1007.7 1080.0 1007.6 C1096.0 1007.5 1110.0 1007.1 1116.0 1007.0" stroke="#000000"/>
<path d="M703.6 1006.5 C719.7 1006.5 779.7 1006.7 800.0 1006.6 C820.3 1006.5 818.1 1006.5 825.3 1005.7 C832.5 1005.0 837.2 1003.8 843.2 1002.1 C849.2 1000.4 856.1 997.5 861.5 995.5 C866.9 993.5 871.9 991.9 875.8 990.1 C879.7 988.3 882.1 987.5 884.8 984.8 C887.5 982.1 889.5 977.9 891.9 974.0 C894.3 970.1 896.7 964.7 899.1 961.5 C901.5 958.3 904.1 955.2 906.2 954.6 C908.3 954.0 909.5 956.5 911.6 957.9 C913.7 959.3 915.8 961.9 918.8 963.3 C921.8 964.6 925.6 965.0 929.5 966.0 C933.4 967.0 938.5 968.0 942.1 969.5 C945.7 971.0 948.3 974.0 951.0 974.9 C953.7 975.8 955.2 973.0 958.2 974.9 C961.2 976.8 965.6 983.4 968.9 986.0 C972.2 988.6 974.0 989.8 977.9 990.4 C981.8 991.0 988.3 989.4 992.2 989.5 C996.1 989.6 997.8 990.1 1001.1 991.3 C1004.4 992.5 1008.0 995.0 1011.9 996.5 C1015.8 998.0 1019.7 999.5 1024.4 1000.5 C1029.1 1001.5 1030.7 1002.0 1040.0 1002.4 C1049.3 1002.8 1067.3 1003.0 1080.0 1002.6 C1092.7 1002.2 1110.0 1000.6 1116.0 1000.2" stroke="#ff0000"/>
<path d="M703.6 1008.8 C719.7 1008.9 779.7 1008.8 800.0 1009.2 C820.3 1009.6 818.1 1010.1 825.3 1011.0 C832.5 1011.9 837.2 1013.1 843.2 1014.6 C849.2 1016.1 856.3 1018.1 861.1 1020.0 C865.9 1021.9 868.9 1023.7 871.9 1026.2 C874.9 1028.7 876.9 1031.6 879.0 1035.2 C881.1 1038.8 882.6 1043.8 884.4 1047.7 C886.2 1051.6 887.9 1055.0 889.8 1058.5 C891.7 1062.0 894.1 1066.8 895.8 1068.8 C897.5 1070.8 898.2 1071.4 900.1 1070.2 C902.0 1069.0 905.1 1063.3 907.3 1061.6 C909.4 1059.9 910.6 1059.7 913.0 1060.2 C915.4 1060.7 919.0 1065.0 921.6 1064.5 C924.2 1064.0 925.9 1060.6 928.8 1057.3 C931.7 1054.0 935.5 1048.7 938.8 1044.4 C942.1 1040.1 945.2 1035.1 948.8 1031.5 C952.4 1027.9 956.5 1025.0 960.3 1022.9 C964.1 1020.8 968.1 1020.5 971.7 1018.6 C975.3 1016.7 978.4 1013.2 981.8 1011.5 C985.1 1009.8 985.4 1008.9 991.8 1008.2 C998.2 1007.5 1005.3 1007.5 1020.0 1007.4 C1034.7 1007.3 1064.0 1007.7 1080.0 1007.6 C1096.0 1007.5 1110.0 1007.1 1116.0 1007.0" stroke="#ff0000"/>
<path d="M703.6 1006.5 C719.7 1006.5 779.7 1006.7 800.0 1006.6 C820.3 1006.5 818.1 1006.5 825.3 1005.7 C832.5 1005.0 837.2 1003.8 843.2 1002.1 C849.2 1000.4 856.1 997.5 861.5 995.5 C866.9 993.5 871.9 991.9 875.8 990.1 C879.7 988.3 882.1 987.5 884.8 984.8 C887.5 982.1 889.5 977.9 891.9 974.0 C894.3 970.1 896.7 964.5 899.1 961.5 C901.5 958.5 904.1 956.7 906.2 956.1 C908.3 955.5 909.5 956.7 911.6 957.9 C913.7 959.1 915.8 961.9 918.8 963.3 C921.8 964.6 925.6 965.0 929.5 966.0 C933.4 967.0 938.5 968.0 942.1 969.5 C945.7 971.0 948.3 974.0 951.0 974.9 C953.7 975.8 955.2 973.2 958.2 974.9 C961.2 976.5 965.6 982.4 968.9 984.8 C972.2 987.2 974.0 988.6 977.9 989.2 C981.8 989.8 988.3 988.1 992.2 988.3 C996.1 988.4 997.8 988.7 1001.1 990.1 C1004.4 991.5 1008.0 994.8 1011.9 996.5 C1015.8 998.2 1019.7 999.5 1024.4 1000.5 C1029.1 1001.5 1030.7 1002.0 1040.0 1002.4 C1049.3 1002.8 1067.3 1003.0 1080.0 1002.6 C1092.7 1002.2 1110.0 1000.6 1116.0 1000.2" stroke="#0000ff"/>
<path d="M703.6 1008.8 C719.7 1008.9 779.7 1008.8 800.0 1009.2 C820.3 1009.6 818.1 1010.1 825.3 1011.0 C832.5 1011.9 837.2 1013.1 843.2 1014.6 C849.2 1016.1 856.3 1018.1 861.1 1020.0 C865.9 1021.9 868.9 1023.7 871.9 1026.2 C874.9 1028.7 876.9 1031.6 879.0 1035.2 C881.1 1038.8 882.6 1043.8 884.4 1047.7 C886.2 1051.6 887.9 1055.0 889.8 1058.5 C891.7 1062.0 894.1 1066.8 895.8 1068.8 C897.5 1070.8 898.2 1071.4 900.1 1070.2 C902.0 1069.0 905.1 1063.3 907.3 1061.6 C909.4 1059.9 910.6 1059.7 913.0 1060.2 C915.4 1060.7 919.0 1065.0 921.6 1064.5 C924.2 1064.0 925.9 1060.6 928.8 1057.3 C931.7 1054.0 935.5 1048.7 938.8 1044.4 C942.1 1040.1 945.2 1035.1 948.8 1031.5 C952.4 1027.9 956.5 1025.0 960.3 1022.9 C964.1 1020.8 968.1 1020.5 971.7 1018.6 C975.3 1016.7 978.4 1013.2 981.8 1011.5 C985.1 1009.8 985.4 1008.9 991.8 1008.2 C998.2 1007.5 1005.3 1007.5 1020.0 1007.4 C1034.7 1007.3 1064.0 1007.7 1080.0 1007.6 C1096.0 1007.5 1110.0 1007.1 1116.0 1007.0" stroke="#0000ff"/>
</g>
<text transform="translate(66.39,366.90) scale(1.015,1)" font-size="38.0">2.0</text>
<text transform="translate(66.50,301.70) scale(1.015,1)" font-size="38.0">2.5</text>
<text transform="translate(66.39,236.50) scale(1.015,1)" font-size="38.0">3.0</text>
<text transform="translate(66.50,171.30) scale(1.015,1)" font-size="38.0">3.5</text>
<text transform="translate(66.39,106.10) scale(1.015,1)" font-size="38.0">4.0</text>
<text transform="translate(66.39,767.40) scale(1.015,1)" font-size="38.0">2.0</text>
<text transform="translate(66.50,702.20) scale(1.015,1)" font-size="38.0">2.5</text>
<text transform="translate(66.39,637.00) scale(1.015,1)" font-size="38.0">3.0</text>
<text transform="translate(66.50,571.80) scale(1.015,1)" font-size="38.0">3.5</text>
<text transform="translate(66.39,506.60) scale(1.015,1)" font-size="38.0">4.0</text>
<text transform="translate(66.39,1167.90) scale(1.015,1)" font-size="38.0">2.0</text>
<text transform="translate(66.50,1102.70) scale(1.015,1)" font-size="38.0">2.5</text>
<text transform="translate(66.39,1037.50) scale(1.015,1)" font-size="38.0">3.0</text>
<text transform="translate(66.50,972.30) scale(1.015,1)" font-size="38.0">3.5</text>
<text transform="translate(66.39,907.10) scale(1.015,1)" font-size="38.0">4.0</text>
<text transform="translate(115.47,1192.80) scale(1.015,1)" font-size="38.0">0</text>
<text transform="translate(179.73,1192.80) scale(1.015,1)" font-size="38.0">20</text>
<text transform="translate(255.46,1192.80) scale(1.015,1)" font-size="38.0">40</text>
<text transform="translate(330.12,1192.80) scale(1.015,1)" font-size="38.0">60</text>
<text transform="translate(405.46,1192.80) scale(1.015,1)" font-size="38.0">80</text>
<g transform="translate(468.86,1192.80) scale(1.015,1)"><path transform="translate(0.00,0) scale(0.0380,-0.0380)" d="M378 0L378 709L322 709C300 652 205 617 100 607L100 526C188 532 246 556 287 592L287 0Z"/><text x="21.13" font-size="38.0">00</text></g>
<text transform="translate(631.45,95.70) scale(1.015,1)" font-size="38.0">400</text>
<text transform="translate(631.45,153.00) scale(1.015,1)" font-size="38.0">200</text>
<text transform="translate(674.36,210.30) scale(1.015,1)" font-size="38.0">0</text>
<text transform="translate(618.61,267.60) scale(1.015,1)" font-size="38.0">-200</text>
<text transform="translate(618.61,324.90) scale(1.015,1)" font-size="38.0">-400</text>
<text transform="translate(626.95,504.05) scale(1.015,1)" font-size="38.0">400</text>
<text transform="translate(626.95,564.05) scale(1.015,1)" font-size="38.0">200</text>
<text transform="translate(669.86,624.05) scale(1.015,1)" font-size="38.0">0</text>
<text transform="translate(614.11,684.05) scale(1.015,1)" font-size="38.0">-200</text>
<text transform="translate(614.11,744.05) scale(1.015,1)" font-size="38.0">-400</text>
<text transform="translate(631.45,897.70) scale(1.015,1)" font-size="38.0">400</text>
<text transform="translate(631.45,957.90) scale(1.015,1)" font-size="38.0">200</text>
<text transform="translate(674.36,1018.10) scale(1.015,1)" font-size="38.0">0</text>
<text transform="translate(618.61,1078.30) scale(1.015,1)" font-size="38.0">-200</text>
<text transform="translate(618.61,1138.50) scale(1.015,1)" font-size="38.0">-400</text>
<text transform="translate(675.47,1191.50) scale(1.015,1)" font-size="38.0">2.0</text>
<text transform="translate(765.33,1191.50) scale(1.015,1)" font-size="38.0">2.5</text>
<text transform="translate(855.31,1191.50) scale(1.015,1)" font-size="38.0">3.0</text>
<text transform="translate(945.17,1191.50) scale(1.015,1)" font-size="38.0">3.5</text>
<text transform="translate(1035.20,1191.50) scale(1.015,1)" font-size="38.0">4.0</text>
<text transform="translate(164.74,34.60)" font-size="41.0">Li</text>
<text transform="translate(197.51,51.80) scale(1.13,1)" font-size="21.0">2</text>
<text transform="translate(211.44,34.60)" font-size="41.0">FeP</text>
<text transform="translate(287.41,51.80) scale(1.13,1)" font-size="21.0">2</text>
<text transform="translate(301.16,34.60)" font-size="41.0">O</text>
<text transform="translate(333.58,51.80) scale(1.13,1)" font-size="21.0">7</text>
<text transform="translate(347.10,34.60)" font-size="41.0">/LiPF</text>
<text transform="translate(444.59,51.80) scale(1.13,1)" font-size="21.0">6</text>
<text transform="translate(458.00,34.60)" font-size="41.0">/Li</text>
<text transform="translate(83.86,422.80)" font-size="41.0">(Na,Li)</text>
<g transform="translate(208.34,439.80) scale(1.13,1)"><path transform="translate(0.00,0) scale(0.0210,-0.0210)" d="M378 0L378 709L322 709C300 652 205 617 100 607L100 526C188 532 246 556 287 592L287 0Z"/><text x="11.68" font-size="21.0">.56</text></g>
<text transform="translate(256.14,422.80)" font-size="41.0">Fe</text>
<g transform="translate(306.54,439.80) scale(1.13,1)"><path transform="translate(0.00,0) scale(0.0210,-0.0210)" d="M378 0L378 709L322 709C300 652 205 617 100 607L100 526C188 532 246 556 287 592L287 0Z"/><text x="11.68" font-size="21.0">.22</text></g>
<text transform="translate(352.34,422.80)" font-size="41.0">P</text>
<text transform="translate(379.51,439.80) scale(1.13,1)" font-size="21.0">2</text>
<text transform="translate(393.16,422.80)" font-size="41.0">O</text>
<text transform="translate(424.98,439.80) scale(1.13,1)" font-size="21.0">7</text>
<text transform="translate(439.10,422.80)" font-size="41.0">/LiPF</text>
<text transform="translate(535.69,439.80) scale(1.13,1)" font-size="21.0">6</text>
<text transform="translate(550.40,422.80)" font-size="41.0">/Li</text>
<text transform="translate(106.64,827.00)" font-size="41.0">Na</text>
<g transform="translate(160.64,844.00) scale(1.13,1)"><path transform="translate(0.00,0) scale(0.0210,-0.0210)" d="M378 0L378 709L322 709C300 652 205 617 100 607L100 526C188 532 246 556 287 592L287 0Z"/><text x="11.68" font-size="21.0">.56</text></g>
<text transform="translate(208.34,827.00)" font-size="41.0">Fe</text>
<g transform="translate(257.64,844.00) scale(1.13,1)"><path transform="translate(0.00,0) scale(0.0210,-0.0210)" d="M378 0L378 709L322 709C300 652 205 617 100 607L100 526C188 532 246 556 287 592L287 0Z"/><text x="11.68" font-size="21.0">.22</text></g>
<text transform="translate(304.64,827.00)" font-size="41.0">P</text>
<text transform="translate(331.21,844.00) scale(1.13,1)" font-size="21.0">2</text>
<text transform="translate(345.46,827.00)" font-size="41.0">O</text>
<text transform="translate(378.48,844.00) scale(1.13,1)" font-size="21.0">7</text>
<text transform="translate(391.10,827.00)" font-size="41.0">/LiPF</text>
<text transform="translate(489.09,844.00) scale(1.13,1)" font-size="21.0">6</text>
<text transform="translate(503.90,827.00)" font-size="41.0">/Li</text>
<text transform="translate(39.96,1265.10) scale(0.978,1)" font-size="50.5">Specific capacity, mAhg</text>
<g transform="translate(562.31,1238.20) scale(1.12,1)"><text x="0.00" font-size="26.0">-</text><path transform="translate(8.66,0) scale(0.0260,-0.0260)" d="M378 0L378 709L322 709C300 652 205 617 100 607L100 526C188 532 246 556 287 592L287 0Z"/></g>
<text transform="translate(791.08,1268.20) scale(0.97,1)" font-size="50.5">Voltage, V</text>
<text transform="translate(40.00,717.72) rotate(-90) scale(0.97,1)" font-size="50.5">Voltage, V</text>
<text transform="translate(602.80,870.08) rotate(-90) scale(0.993,1)" font-size="50.0">dQ/dV, mAh g</text>
<g transform="translate(575.80,557.97) rotate(-90) scale(1.1,1)"><text x="0.00" font-size="26.0">-</text><path transform="translate(8.66,0) scale(0.0260,-0.0260)" d="M378 0L378 709L322 709C300 652 205 617 100 607L100 526C188 532 246 556 287 592L287 0Z"/></g>
<text transform="translate(602.80,516.42) rotate(-90) scale(0.993,1)" font-size="50.0">V</text>
<g transform="translate(575.80,485.27) rotate(-90) scale(1.1,1)"><text x="0.00" font-size="26.0">-</text><path transform="translate(8.66,0) scale(0.0260,-0.0260)" d="M378 0L378 709L322 709C300 652 205 617 100 607L100 526C188 532 246 556 287 592L287 0Z"/></g>
<text transform="translate(150.81,208.80) scale(1.021,1)" font-size="32.5">Cycle number</text>
<line x1="151.3" y1="244.0" x2="225.4" y2="244.0" stroke="#000" stroke-width="6.2"/>
<g transform="translate(234.51,255.00)"><path transform="translate(0.00,0) scale(0.0300,-0.0300)" d="M378 0L378 709L322 709C300 652 205 617 100 607L100 526C188 532 246 556 287 592L287 0Z"/></g>
<text transform="translate(253.37,237.00) scale(1.05,1)" font-size="18.0">st</text>
<line x1="151.3" y1="291.3" x2="225.4" y2="291.3" stroke="#f00" stroke-width="6.2"/>
<text transform="translate(234.69,302.00)" font-size="30.0">2</text>
<text transform="translate(253.24,283.50) scale(1.05,1)" font-size="18.0">nd</text>
<line x1="151.3" y1="338.7" x2="225.4" y2="338.7" stroke="#00f" stroke-width="6.2"/>
<text transform="translate(235.20,349.40)" font-size="30.0">5</text>
<text transform="translate(254.21,331.00) scale(1.05,1)" font-size="18.0">th</text>
<text transform="translate(1000.00,115.97) rotate(-90) scale(1.015,1)" font-size="38.0">3.6</text>
<text transform="translate(1063.80,143.87) rotate(-90) scale(1.015,1)" font-size="38.0">3.75</text>
<text transform="translate(954.80,349.57) rotate(-90) scale(1.015,1)" font-size="38.0">3.49</text>
<text transform="translate(929.90,565.37) rotate(-90) scale(1.015,1)" font-size="38.0">3.20</text>
<text transform="translate(992.30,544.57) rotate(-90) scale(1.015,1)" font-size="38.0">3.40</text>
<text transform="translate(1030.20,568.17) rotate(-90) scale(1.015,1)" font-size="38.0">3.70</text>
<text transform="translate(899.90,749.07) rotate(-90) scale(1.015,1)" font-size="38.0">3.07</text>
<g transform="translate(934.30,740.47) rotate(-90) scale(1.015,1)"><text x="0.00" font-size="38.0">3.</text><path transform="translate(31.69,0) scale(0.0380,-0.0380)" d="M378 0L378 709L322 709C300 652 205 617 100 607L100 526C188 532 246 556 287 592L287 0Z"/><text x="52.83" font-size="38.0">8</text></g>
<text transform="translate(975.20,723.97) rotate(-90) scale(1.015,1)" font-size="38.0">3.42</text>
<g transform="translate(912.10,939.57) rotate(-90) scale(1.015,1)"><text x="0.00" font-size="38.0">3.</text><path transform="translate(31.69,0) scale(0.0380,-0.0380)" d="M378 0L378 709L322 709C300 652 205 617 100 607L100 526C188 532 246 556 287 592L287 0Z"/><text x="52.83" font-size="38.0">5</text></g>
<text transform="translate(969.40,958.17) rotate(-90) scale(1.015,1)" font-size="38.0">3.42</text>
<text transform="translate(1019.50,977.57) rotate(-90) scale(1.015,1)" font-size="38.0">3.64</text>
<text transform="translate(901.30,1152.57) rotate(-90) scale(1.015,1)" font-size="38.0">3.08</text>
<text transform="translate(940.80,1149.77) rotate(-90) scale(1.015,1)" font-size="38.0">3.23</text>
<text transform="translate(985.20,1112.47) rotate(-90) scale(1.015,1)" font-size="38.0">3.49</text>
</svg>
</body></html>
